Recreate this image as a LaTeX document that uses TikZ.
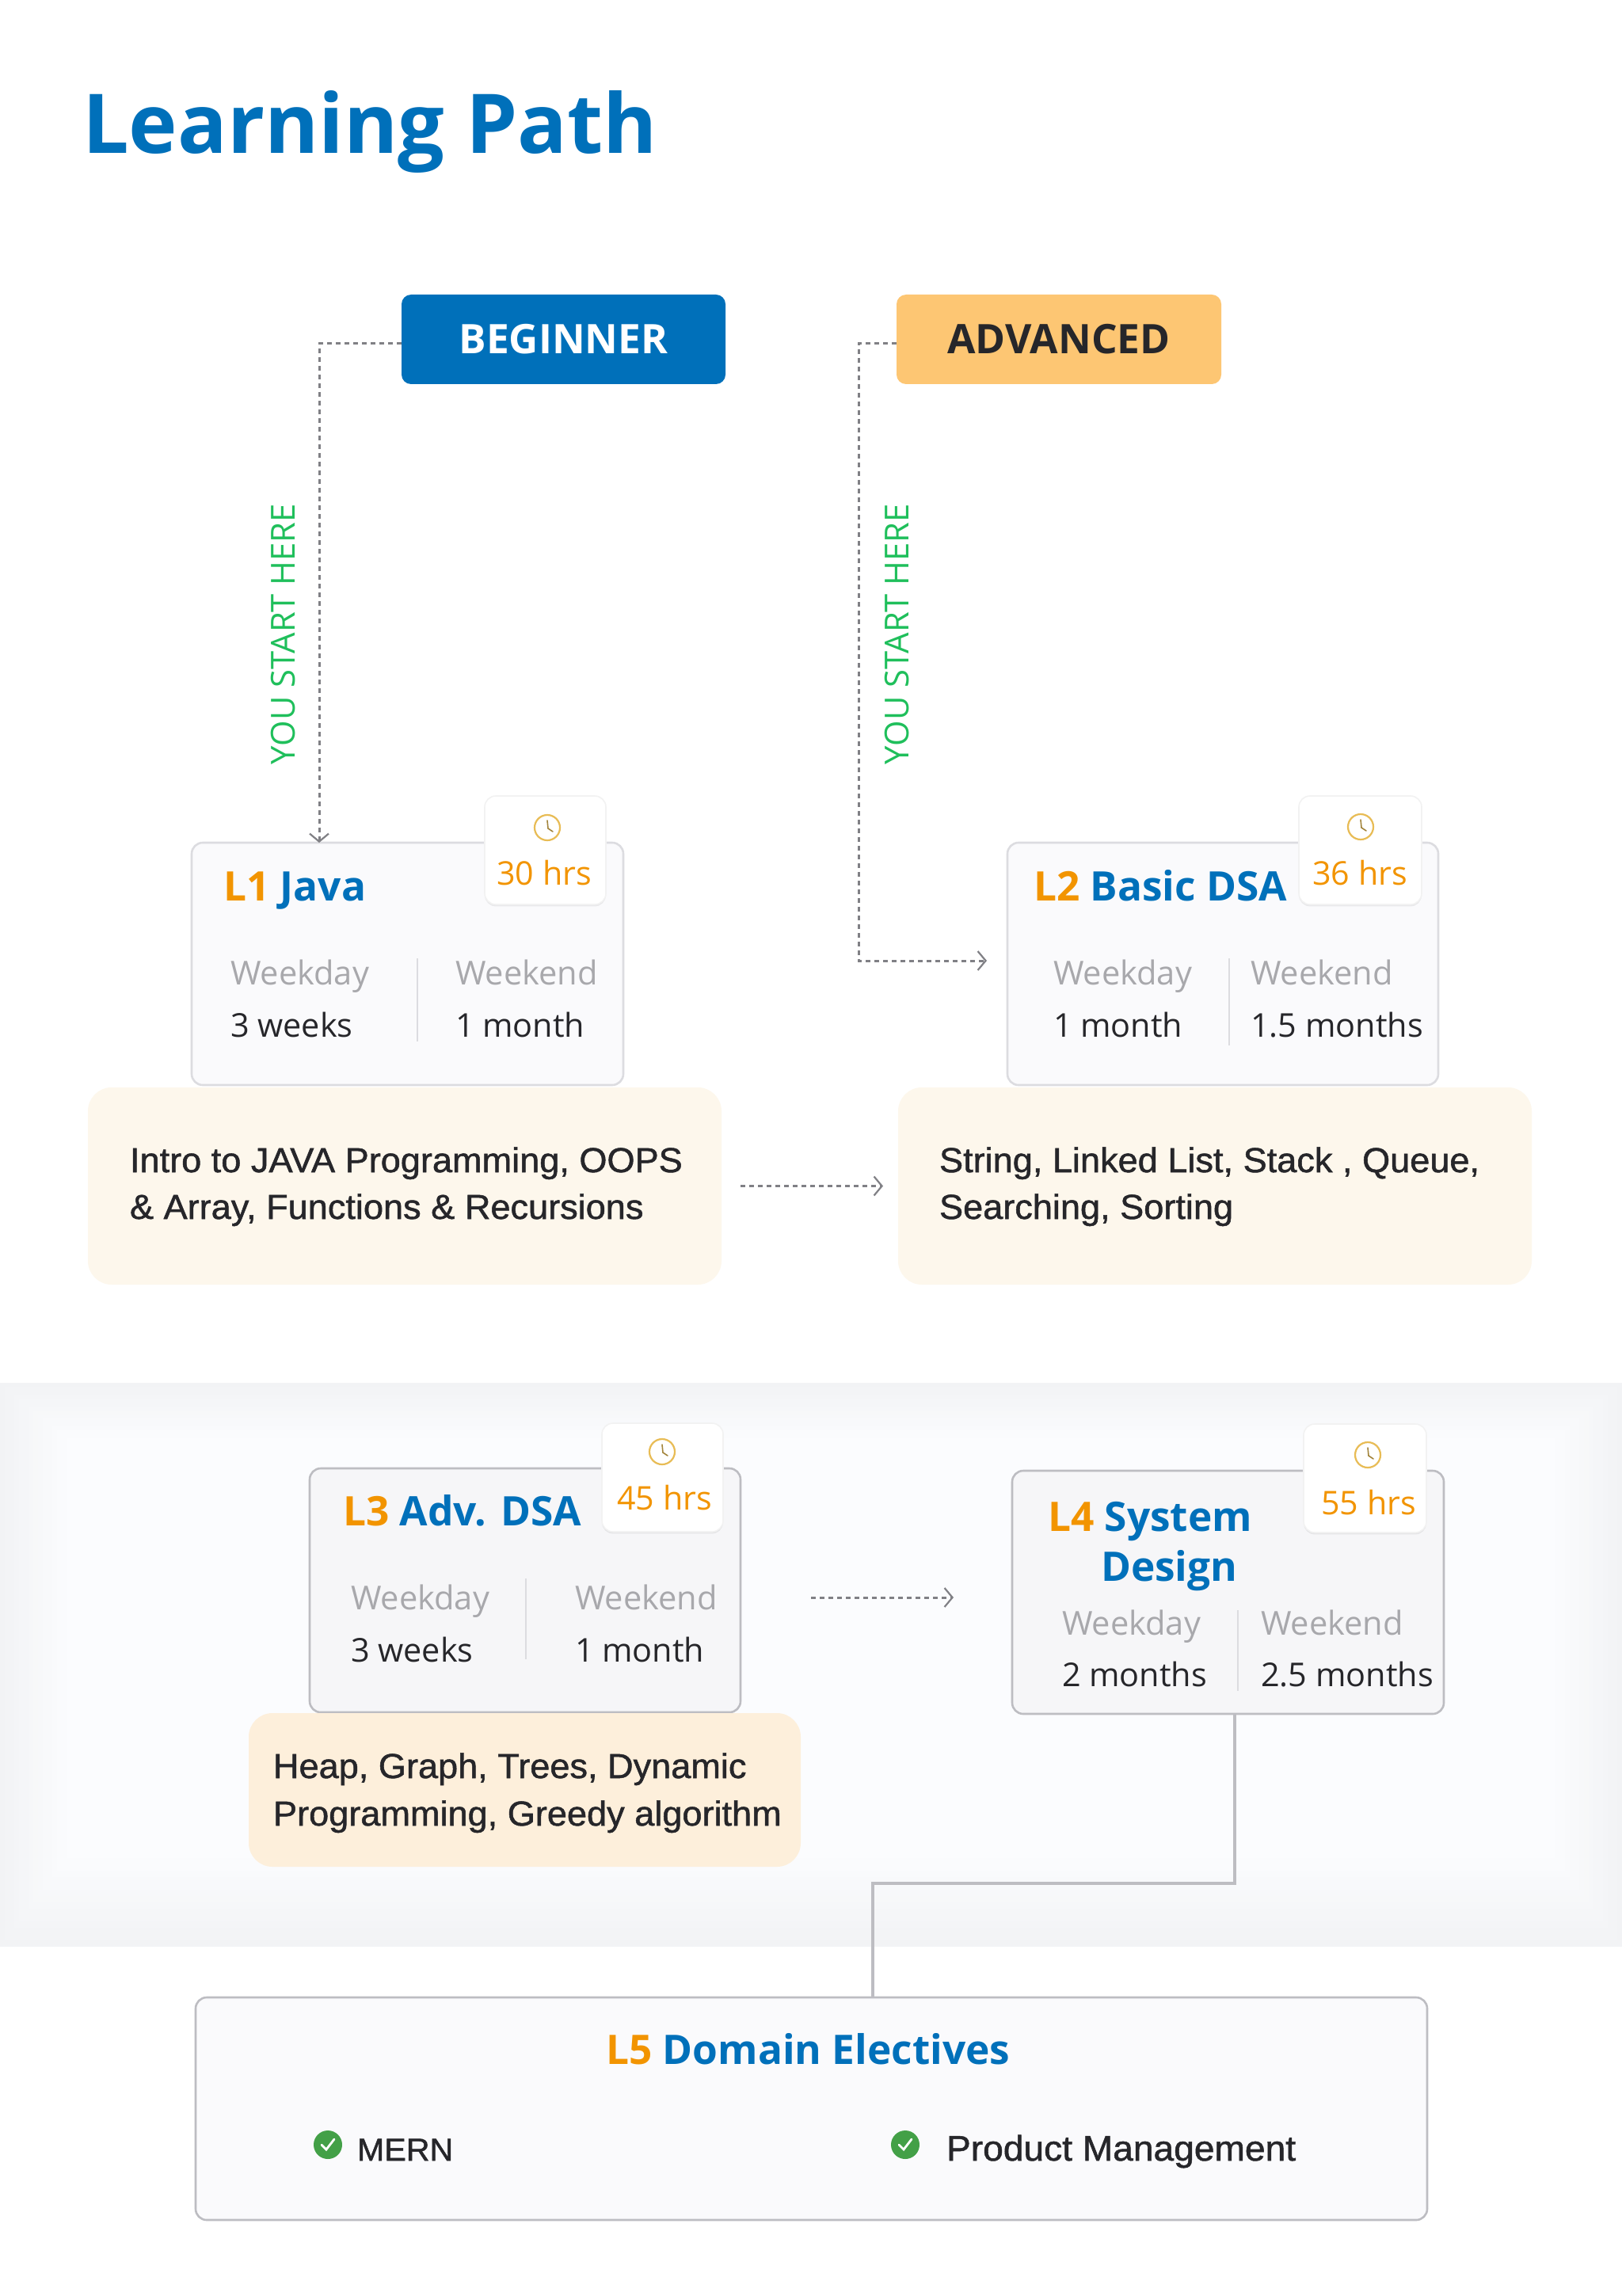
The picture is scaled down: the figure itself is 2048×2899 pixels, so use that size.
\documentclass[tikz,border=0pt]{standalone}
\usepackage{fontspec}
\setmainfont{Open Sans}
\newfontfamily\bodyf[FakeBold=1.2,FakeStretch=1.03]{Liberation Sans}
\usetikzlibrary{arrows.meta,calc,shadows}
\definecolor{bluec}{HTML}{0070BA}
\definecolor{orangec}{HTML}{F29400}
\definecolor{advc}{HTML}{FDC673}
\definecolor{darkc}{HTML}{26262A}
\definecolor{greyc}{HTML}{A8A8AC}
\definecolor{cardl}{HTML}{DCDCE0}
\definecolor{cardf}{HTML}{FAFAFC}
\definecolor{cardg}{HTML}{F6F6F8}
\definecolor{creamc}{HTML}{FDF7EC}
\definecolor{peachc}{HTML}{FDEFDB}
\definecolor{greenc}{HTML}{1FBF5B}
\definecolor{dashc}{HTML}{808085}
\definecolor{bandout}{HTML}{F2F3F5}
\definecolor{bandin}{HTML}{FBFCFE}
\definecolor{clockc}{HTML}{E8BC55}
\definecolor{linkc}{HTML}{BDBDC2}
\definecolor{okc}{HTML}{43A047}
\tikzset{
  boxbase/.style={anchor=north west,inner sep=0pt,outer sep=0pt},
  cardbox/.style={boxbase,draw=cardl,fill=cardf,line width=1.3pt,rounded corners=7pt},
  cardboxd/.style={cardbox,draw=linkc,fill=cardf},
  badge/.style={boxbase,fill=white,draw=black!5,line width=0.8pt,rounded corners=7pt,
     drop shadow={shadow xshift=0pt,shadow yshift=-1.2pt,fill=black,opacity=0.07}},
  descbox/.style={boxbase,rounded corners=15pt},
  txt/.style={anchor=base west,inner sep=0pt,outer sep=0pt},
  ttl/.style={txt,font=\fontsize{25.7}{30}\selectfont\bfseries},
  hrs/.style={txt,anchor=base,text=orangec,font=\fontsize{20.6}{24}\selectfont},
  soft/.style={txt,text=greyc,font=\fontsize{20.8}{24}\selectfont},
  val/.style={txt,text=darkc,font=\fontsize{20.7}{24}\selectfont},
  bodyt/.style={txt,text=darkc,font=\bodyf\fontsize{21.9}{26}\selectfont},
  startt/.style={txt,rotate=90,text=greenc,font=\fontsize{20.9}{24}\selectfont},
  dashl/.style={draw=dashc,line width=1.5pt,dash pattern=on 3pt off 2.5pt,-{Straight Barb[length=5pt,width=12pt,line width=1.1pt]}},
  divl/.style={draw=cardl,line width=1.2pt},
  linkl/.style={draw=linkc,line width=2.2pt},
}
\newcommand{\Bx}[6]{\node[#1,minimum width={(#5-#3)*0.5pt},minimum height={(#6-#4)*0.5pt}] (#2) at (#3,#4) {};}
\newcommand{\Clk}[2]{%
  \draw[clockc,line width=1.1pt] (#1,#2) circle (8pt);
  \draw[clockc!70!black,line width=0.8pt,line cap=round] (#1,#2-9) -- (#1+1,#2+1) -- (#1+7,#2+5);}
\newcommand{\Chk}[2]{%
  \fill[okc] (#1,#2) circle (9pt);
  \draw[white,line width=1.4pt,line cap=round] (#1-8,#2) -- (#1-2,#2+6) -- (#1+8,#2-7);}
\begin{document}
\begin{tikzpicture}[x=0.5pt,y=-0.5pt]
\useasboundingbox (0,0) rectangle (2048,2899);
\fill[white] (0,0) rectangle (2048,2899);
% band
\fill[bandout] (0,1746) rectangle (2048,2458);
\foreach \i in {1,...,14}{
  \pgfmathsetmacro{\p}{\i*100/14}
  \fill[bandin!\p!bandout] (\i*6,1746+\i*5) rectangle (2048-\i*6,2458-\i*8);
}
% title
\node[txt,text=bluec,font=\fontsize{52}{62}\selectfont\bfseries] (title) at (104,194) {Learning Path};
% level buttons
\node[boxbase,fill=bluec,rounded corners=6pt,minimum width=204.5pt,minimum height=56.5pt,text=white,font=\fontsize{25.7}{30}\selectfont\bfseries,align=center] (beginner) at (507,372) {BEGINNER};
\node[boxbase,fill=advc,rounded corners=6pt,minimum width=205pt,minimum height=56.5pt,text=darkc,font=\fontsize{25.7}{30}\selectfont\bfseries,align=center] (advanced) at (1132,372) {ADVANCED};
% cards
\Bx{cardbox}{l1}{242}{1064}{787}{1370}
\Bx{cardbox}{l2}{1272}{1064}{1816}{1370}
\Bx{descbox,fill=creamc}{d1}{111}{1373}{911}{1622}
\Bx{descbox,fill=creamc}{d2}{1134}{1373}{1934}{1622}
\Bx{cardboxd,fill=cardg}{l3}{391}{1854}{935}{2162}
\Bx{cardboxd,fill=cardg}{l4}{1278}{1857}{1823}{2164}
\Bx{descbox,fill=peachc}{d3}{314}{2163}{1011}{2357}
\Bx{cardboxd}{l5}{247}{2522}{1802}{2803}
\Bx{badge}{b1}{612}{1005}{765}{1142}
\Bx{badge}{b2}{1640}{1005}{1795}{1142}
\Bx{badge}{b3}{760}{1797}{913}{1934}
\Bx{badge}{b4}{1646}{1798}{1801}{1935}
% dividers
\draw[divl] (527,1210) -- (527,1315);
\draw[divl] (1552,1210) -- (1552,1320);
\draw[divl] (664,1993) -- (664,2095);
\draw[divl] (1563,2033) -- (1563,2135);
% clocks
\Clk{691}{1045}\Clk{1718}{1044}\Clk{836}{1833}\Clk{1727}{1837}
% hours
\node[hrs] (h1) at (687,1117) {30 hrs};
\node[hrs] (h2) at (1717,1117) {36 hrs};
\node[hrs] (h3) at (839,1906) {45 hrs};
\node[hrs] (h4) at (1728,1912) {55 hrs};
% titles
\node[ttl] (t1) at (282,1137) {\textcolor{orangec}{L1} \textcolor{bluec}{Java}};
\node[ttl] (t2) at (1305,1137) {\textcolor{orangec}{L2} \textcolor{bluec}{Basic DSA}};
\node[ttl] (t3) at (433,1926) {\textcolor{orangec}{L3} \textcolor{bluec}{Adv. DSA}};
\node[ttl] (t4) at (1323,1933) {\textcolor{orangec}{L4} \textcolor{bluec}{System}};
\node[ttl] (t4b) at (1390,1996) {\textcolor{bluec}{Design}};
\node[ttl] (t5) at (765,2606) {\textcolor{orangec}{L5} \textcolor{bluec}{Domain Electives}};
% schedule
\node[soft] (wd1) at (291,1243) {Weekday};
\node[val]  (v1)  at (291,1309) {3 weeks};
\node[soft] (we1) at (575,1243) {Weekend};
\node[val]  (w1)  at (575,1309) {1 month};
\node[soft] (wd2) at (1330,1243) {Weekday};
\node[val]  (v2)  at (1330,1309) {1 month};
\node[soft] (we2) at (1579,1243) {Weekend};
\node[val]  (w2)  at (1579,1309) {1.5 months};
\node[soft] (wd3) at (443,2032) {Weekday};
\node[val]  (v3)  at (443,2098) {3 weeks};
\node[soft] (we3) at (726,2032) {Weekend};
\node[val]  (w3)  at (726,2098) {1 month};
\node[soft] (wd4) at (1341,2064) {Weekday};
\node[val]  (v4)  at (1341,2129) {2 months};
\node[soft] (we4) at (1592,2064) {Weekend};
\node[val]  (w4)  at (1592,2129) {2.5 months};
% descriptions
\node[bodyt] (x1a) at (164,1480) {Intro to JAVA Programming, OOPS};
\node[bodyt] (x1b) at (164,1539) {\& Array, Functions \& Recursions};
\node[bodyt] (x2a) at (1186,1480) {String, Linked List, Stack , Queue,};
\node[bodyt] (x2b) at (1186,1539) {Searching, Sorting};
\node[bodyt] (x3a) at (345,2245) {Heap, Graph, Trees, Dynamic};
\node[bodyt] (x3b) at (345,2305) {Programming, Greedy algorithm};
% electives
\Chk{414}{2708}\Chk{1143}{2708}
\node[bodyt,font=\bodyf\fontsize{20}{26}\selectfont] (m1) at (451,2728) {MERN};
\node[bodyt,font=\bodyf\fontsize{22.4}{26}\selectfont] (m2) at (1195,2728) {Product Management};
% start labels
\node[startt] (s1) at (372,965) {YOU START HERE};
\node[startt] (s2) at (1147,965) {YOU START HERE};
% connectors
\coordinate (p1) at (403,434);
\draw[dashl] (beginner.west |- p1) -- (p1) -- (p1 |- l1.north);
\coordinate (p2) at (1084,434);
\coordinate (p3) at (1084,1213);
\draw[dashl,shorten >=13pt] (advanced.west |- p2) -- (p2) -- (p3) -- (p3 -| l2.west);
\draw[dashl,shorten <=12pt,shorten >=9.5pt] (d1.east) -- (d2.west);
\coordinate (p4) at (1100,2017);
\draw[dashl,shorten <=44.5pt,shorten >=37pt] (l3.east |- p4) -- (l4.west |- p4);
\coordinate (p5) at (1559,2378);
\coordinate (p6) at (1102,2378);
\draw[linkl] (p5 |- l4.south) -- (p5) -- (p6) -- (p6 |- l5.north);
\end{tikzpicture}
\end{document}
